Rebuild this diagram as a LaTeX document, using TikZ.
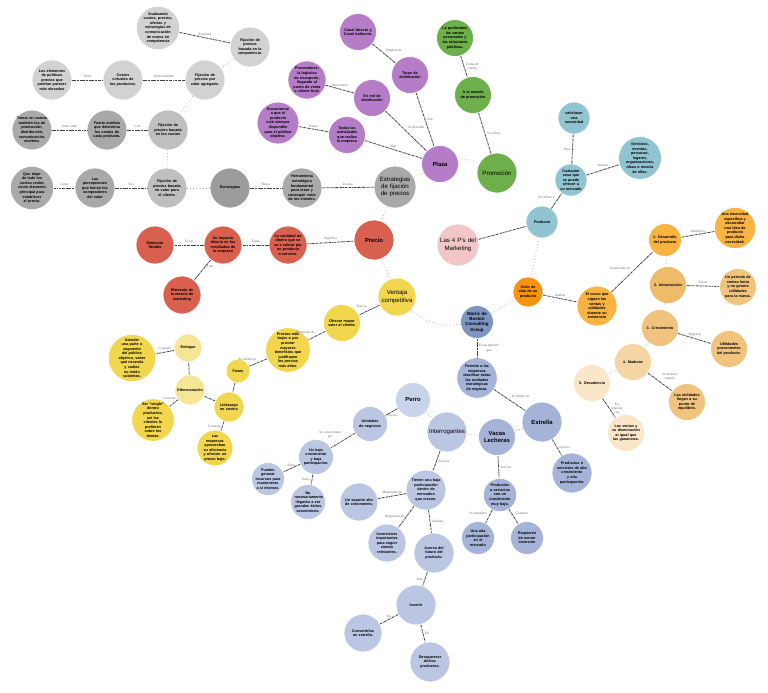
\documentclass[tikz,border=0pt]{standalone}
\usepackage{fontspec}
\setmainfont{Liberation Serif}
\setsansfont{Liberation Sans}
\definecolor{GreyLight}{HTML}{D2D2D2}
\definecolor{GreyMid}{HTML}{BFBFBF}
\definecolor{GreyDark}{HTML}{A9A9A9}
\definecolor{GreyDeep}{HTML}{9C9C9C}
\definecolor{PlazaPurple}{HTML}{B57CC8}
\definecolor{PromoGreen}{HTML}{6DAF4B}
\definecolor{ProdTeal}{HTML}{8FC4D0}
\definecolor{MktPink}{HTML}{F2C6C6}
\definecolor{PrecioRed}{HTML}{D9604F}
\definecolor{VentYellow}{HTML}{F2D64E}
\definecolor{VentPale}{HTML}{F5E594}
\definecolor{BcgDark}{HTML}{7E95C1}
\definecolor{BcgMid}{HTML}{A4B3D7}
\definecolor{BcgLight}{HTML}{BAC6E2}
\definecolor{BcgPale}{HTML}{C9D3EA}
\definecolor{CicloOrange}{HTML}{F8940F}
\definecolor{FaseA}{HTML}{F8B343}
\definecolor{FaseB}{HTML}{EDBB6A}
\definecolor{FaseC}{HTML}{F1C47E}
\definecolor{FaseD}{HTML}{F5D5A3}
\definecolor{FaseE}{HTML}{FAE7CA}
\hyphenpenalty=10000
\exhyphenpenalty=10000

\begin{document}
\begin{tikzpicture}[x=0.03cm, y=-0.03cm,
    bub/.style={circle, draw=white, line width=0.6pt, inner sep=0pt, align=center,
      font=\sffamily\bfseries\fontsize{3.2}{3.9}\selectfont},
    sz/.style={minimum size=#1*0.03cm, text width=#1*0.023cm},
    big/.style={font=\sffamily\fontsize{5.2}{6.2}\selectfont},
    bigb/.style={font=\sffamily\bfseries\fontsize{5}{6}\selectfont},
    link/.style={black!75, line width=0.7pt, dash pattern=on 2pt off 0.6pt on 0.6pt off 0.6pt},
    tie/.style={gray!70, line width=0.6pt, dotted},
    lbl/.style={font=\rmfamily\fontsize{3}{3.5}\selectfont, text=black!60, inner sep=1.5pt, align=center}]
    \useasboundingbox (0,0) rectangle (768,692);

    % precios
    \node[bub, sz=40, fill=GreyLight] (G1) at (158,28) {Analizando costos, precios, ofertas y estrategias de comunicación de marca en competencia};
    \node[bub, sz=40, fill=GreyLight] (G2) at (250,47) {Fijación de precios basada en la competencia.};
    \node[bub, sz=40, fill=GreyLight] (G3) at (205,80) {Fijación de precios por valor agregado.};
    \node[bub, sz=40, fill=GreyLight] (G4) at (123,80) {Costos virtuales de los productos.};
    \node[bub, sz=40, fill=GreyLight] (G5) at (52,80) {Los elementos de políticas precios que podrían parecer más elevados};
    \node[bub, sz=40, fill=GreyMid] (G6) at (168,130) {Fijación de precios basada en los costos};
    \node[bub, sz=40, fill=GreyDark] (G7) at (107,130) {Fuerte análisis que determina los costos de cada producto.};
    \node[bub, sz=40, fill=GreyDark] (G8) at (32,130) {Tomar en cuenta también los de producción, distribución, comunicación, etcétera.};
    \node[bub, sz=40, fill=GreyMid] (G9) at (167,188) {Fijación de precios basada en valor para el cliente.};
    \node[bub, sz=40, fill=GreyDark] (G10) at (95,188) {Las percepciones que tienen los compradores del valor};
    \node[bub, sz=40, fill=GreyDark] (G11) at (32,188) {Que dejar de lado los costos reales como elemento principal para establecer el precio.};
    \node[bub, sz=40, fill=GreyDeep] (Estrategias) at (230,188) {Estrategias};
    \node[bub, sz=40, fill=GreyDark] (Herramienta) at (302,188) {Herramienta estratégica fundamental para crear y conseguir valor de los clientes.};
    \node[bub, sz=42, fill=GreyDark, big, text width=1.1cm] (Fijacion) at (395,187) {Estrategias de fijación de precios};

    % plaza
    \node[bub, sz=37, fill=PlazaPurple] (P1) at (358,32) {Canal directo y Canal indirecto.};
    \node[bub, sz=37, fill=PlazaPurple] (P2) at (410,75) {Tipos de distribución};
    \node[bub, sz=37, fill=PlazaPurple] (P3) at (307,80) {Proveedores, la logística de transporte, llegando al punto de venta o cliente final.};
    \node[bub, sz=37, fill=PlazaPurple] (P4) at (372,98) {En red de distribución};
    \node[bub, sz=37, fill=PlazaPurple] (P5) at (278,123) {Encontrarse a que el producto esté siempre disponible para el público objetivo.};
    \node[bub, sz=37, fill=PlazaPurple] (P6) at (347,135) {Todas las actividades que realiza la empresa};
    \node[bub, sz=37, fill=PlazaPurple, bigb] (Plaza) at (440,164) {Plaza};

    % promocion
    \node[bub, sz=37, fill=PromoGreen] (GR1) at (455,38) {La publicidad, las ventas personales y las relaciones públicas.};
    \node[bub, sz=37, fill=PromoGreen] (GR2) at (473,95) {A la mezcla de promoción};
    \node[bub, sz=40, fill=PromoGreen, big, text width=1.1cm] (Promocion) at (497,173) {Promoción};

    % producto
    \node[bub, sz=32, fill=ProdTeal] (Producto) at (542,222) {Producto};
    \node[bub, sz=32, fill=ProdTeal] (T1) at (571,180) {Cualquier cosa que se puede ofrecer a un mercado};
    \node[bub, sz=32, fill=ProdTeal] (T2) at (574,118) {satisfacer una necesidad};
    \node[bub, sz=40, fill=ProdTeal] (T3) at (640,158) {Servicios, eventos, personas, lugares, organizaciones, ideas o mezcla de ellos.};
    \node[bub, sz=42, fill=MktPink, big, text width=1.1cm] (Marketing) at (458,245) {Las 4 P's del Marketing};

    % precio
    \node[bub, sz=40, fill=PrecioRed, bigb] (Precio) at (374,240) {Precio};
    \node[bub, sz=38, fill=PrecioRed] (R1) at (288,245) {La cantidad de dinero que se va a cobrar por un producto o servicio.};
    \node[bub, sz=38, fill=PrecioRed] (R2) at (223,245) {Un impacto directo en los resultados de la empresa};
    \node[bub, sz=38, fill=PrecioRed] (R3) at (155,245) {Elemento flexible};
    \node[bub, sz=38, fill=PrecioRed] (R4) at (182,295) {Elemento de la mezcla de marketing};

    % ventaja
    \node[bub, sz=38, fill=VentYellow, big, text width=1.05cm] (Ventaja) at (397,297) {Ventaja competitiva};
    \node[bub, sz=37, fill=VentYellow] (Y2) at (342,323) {Ofrecer mayor valor al cliente.};
    \node[bub, sz=37, fill=VentYellow] (Y3) at (288,350) {Precios más bajos o por proveer mayores beneficios que justifiquen los precios más altos.};
    \node[bub, sz=24, fill=VentYellow] (Fases) at (238,371) {Fases};
    \node[bub, sz=30, fill=VentYellow] (Liderazgo) at (229,407) {Liderazgo en costos};
    \node[bub, sz=30, fill=VentYellow, text width=0.74cm] (Y6) at (215,448) {Las empresas aprovechan su eficiencia y ofrecen un precio bajo.};
    \node[bub, sz=30, fill=VentPale, text width=0.8cm] (Diferenciacion) at (190,390) {Diferenciación};
    \node[bub, sz=28, fill=VentPale] (Enfoque) at (188,348) {Enfoque};
    \node[bub, sz=32, fill=VentYellow, text width=0.8cm] (Y9) at (132,358) {Atender una parte o segmento del público objetivo, saber qué necesita y cuáles no están cubiertas.};
    \node[bub, sz=31, fill=VentYellow, text width=0.74cm] (Y10) at (153,420) {Ser “single” dentro productos, así los clientes lo prefieren sobre los demás.};

    % matriz bcg
    \node[bub, sz=30, fill=BcgDark, text width=0.78cm, font=\sffamily\bfseries\fontsize{3.8}{4.6}\selectfont] (Matriz) at (477,322) {Matriz de Boston Consulting Group};
    \node[bub, sz=40, fill=BcgMid] (M1) at (477,378) {Permite a las empresas clasificar todas las unidades estratégicas de negocio.};
    \node[bub, sz=40, fill=BcgMid, bigb] (Estrella) at (542,422) {Estrella};
    \node[bub, sz=40, fill=BcgMid] (ES1) at (572,473) {Productos o servicios de alto crecimiento y alta participación.};
    \node[bub, sz=37, fill=BcgMid, bigb, text width=1cm] (Vacas) at (497,437) {Vacas Lecheras};
    \node[bub, sz=33, fill=BcgMid] (V1) at (500,495) {Productos o servicios con un crecimiento muy bajo.};
    \node[bub, sz=33, fill=BcgMid] (V2) at (478,538) {Una alta participación en el mercado};
    \node[bub, sz=33, fill=BcgMid] (V3) at (527,538) {Requieren de menor inversión};
    \node[bub, sz=40, fill=BcgLight, big, text width=1.15cm] (Interrogantes) at (447,432) {Interrogantes};
    \node[bub, sz=35, fill=BcgPale, bigb] (Perro) at (413,400) {Perro};
    \node[bub, sz=35, fill=BcgLight] (PE1) at (370,424) {Unidades de negocios};
    \node[bub, sz=35, fill=BcgLight] (PE2) at (316,457) {Un bajo crecimiento y baja participación.};
    \node[bub, sz=33, fill=BcgLight] (PE3) at (268,479) {Pueden generar recursos para mantenerse a sí mismos.};
    \node[bub, sz=35, fill=BcgLight] (PE4) at (308,502) {No necesariamente llegarán a ser grandes éxitos económicos.};
    \node[bub, sz=40, fill=BcgLight] (I1) at (426,490) {Tienen una baja participación dentro de mercados que crecen.};
    \node[bub, sz=38, fill=BcgLight] (I2) at (359,502) {Un soporte alto de crecimiento.};
    \node[bub, sz=38, fill=BcgLight] (I3) at (387,543) {Inversiones importantes para seguir siendo relevantes.};
    \node[bub, sz=40, fill=BcgLight] (I4) at (434,553) {Acerca del futuro del producto.};
    \node[bub, sz=40, fill=BcgLight] (Invertir) at (416,605) {Invertir};
    \node[bub, sz=38, fill=BcgLight] (I6) at (363,633) {Convertirlos en estrella.};
    \node[bub, sz=40, fill=BcgLight] (I7) at (430,662) {Desaparecer dichos productos.};

    % ciclo de vida
    \node[bub, sz=30, fill=CicloOrange] (Ciclo) at (528,292) {Ciclo de vida de un producto};
    \node[bub, sz=40, fill=FaseA] (C1) at (597,306) {El curso que siguen las ventas y utilidades durante su existencia};
    \node[bub, sz=33, fill=FaseA] (O1) at (665,240) {1. Desarrollo del producto};
    \node[bub, sz=37, fill=FaseA] (O1b) at (735,228) {Una necesidad específica y desarrollar una idea de producto para dicha necesidad.};
    \node[bub, sz=37, fill=FaseB] (O2) at (668,285) {2. Introducción};
    \node[bub, sz=37, fill=FaseC] (O2b) at (738,287) {Un periodo de ventas lento y no genera utilidades para la marca.};
    \node[bub, sz=37, fill=FaseC] (O3) at (660,328) {3. Crecimiento};
    \node[bub, sz=37, fill=FaseC] (O3b) at (729,349) {Utilidades provenientes del producto.};
    \node[bub, sz=37, fill=FaseD] (O4) at (633,362) {4. Madurez};
    \node[bub, sz=37, fill=FaseC] (O4b) at (687,402) {Las utilidades llegan a su punto de equilibrio.};
    \node[bub, sz=37, fill=FaseE] (O5) at (592,383) {5. Decadencia};
    \node[bub, sz=37, fill=FaseE] (O5b) at (626,433) {Las ventas y su disminución al igual que las ganancias.};

    \draw[link] (G1) -- node[lbl, above] {Examina} (G2);
    \draw[link] (G5) -- node[lbl, above] {Tiene} (G4);
    \draw[link] (G4) -- node[lbl, above] {Esencialmente} (G3);
    \draw[link] (G8) -- node[lbl, above] {Sobre todo} (G7);
    \draw[link] (G7) -- node[lbl, above] {Con} (G6);
    \draw[link] (G11) -- node[lbl, above] {Como} (G10);
    \draw[link] (G10) -- node[lbl, above] {Son} (G9);
    \draw[link] (Estrategias) -- node[lbl, above] {Busca} (Herramienta);
    \draw[link] (Herramienta) -- node[lbl, above] {Es una} (Fijacion);

    \draw[link] (P1) -- node[lbl, above right] {Pueden ser} (P2);
    \draw[link] (P2) -- node[lbl, right] {Son} (Plaza);
    \draw[link] (P3) -- node[lbl, above] {Intervienen} (P4);
    \draw[link] (P4) -- node[lbl, above right] {Se describe} (Plaza);
    \draw[link] (P5) -- node[lbl, above] {Busca} (P6);
    \draw[link] (P6) -- node[lbl, above] {Son} (Plaza);
    \draw[link] (GR1) -- node[lbl, right] {Toma en\\cuenta} (GR2);
    \draw[link] (GR2) -- node[lbl, right] {Se refiere} (Promocion);

    \draw[link] (Producto) -- node[lbl, above left] {Se refiere a} (T1);
    \draw[link] (T1) -- node[lbl, left] {Para} (T2);
    \draw[link] (T1) -- node[lbl, above] {Incluye} (T3);
    \draw[link] (Marketing) -- (Producto);

    \draw[link] (Precio) -- node[lbl, above] {Significa} (R1);
    \draw[link] (R1) -- node[lbl, above] {Tiene} (R2);
    \draw[link] (R2) -- node[lbl, above] {Es un} (R3);
    \draw[link] (R2) -- node[lbl, above right] {Es un} (R4);

    \draw[link] (Ventaja) -- node[lbl, above left] {Esto es} (Y2);
    \draw[link] (Y2) -- node[lbl, above left] {Por medio de} (Y3);
    \draw[link] (Y3) -- node[lbl, above left] {Se divide en} (Fases);
    \draw[link] (Fases) -- (Liderazgo);
    \draw[link] (Liderazgo) -- node[lbl, left] {Consiste} (Y6);
    \draw[link] (Liderazgo) -- (Diferenciacion);
    \draw[link] (Diferenciacion) -- (Enfoque);
    \draw[link] (Enfoque) -- node[lbl, above] {Consiste} (Y9);
    \draw[link] (Diferenciacion) -- node[lbl, above left, pos=0.2, inner sep=0.5pt] {Consiste} (Y10);

    \draw[link] (Matriz) -- node[lbl, right] {Es un método\\que} (M1);
    \draw[link] (M1) -- node[lbl, above right] {Se divide en} (Estrella);
    \draw[link] (Estrella) -- node[lbl, right] {Son los} (ES1);
    \draw[link] (Vacas) -- node[lbl, right] {Son los} (V1);
    \draw[link] (V1) -- node[lbl, above left] {Se mantiene} (V2);
    \draw[link] (V1) -- node[lbl, above right] {Generan} (V3);
    \draw[link] (Perro) -- node[lbl, below] {Son los} (PE1);
    \draw[link] (PE1) -- node[lbl, above left] {Se caracterizan\\por} (PE2);
    \draw[link] (PE2) -- node[lbl, above] {Estos} (PE3);
    \draw[link] (PE2) -- node[lbl, left] {Estos} (PE4);
    \draw[link] (Interrogantes) -- node[lbl, right] {Son los} (I1);
    \draw[link] (I1) -- node[lbl, above] {Mantienen un} (I2);
    \draw[link] (I1) -- node[lbl, left] {Requieren de} (I3);
    \draw[link] (I1) -- node[lbl, right] {Analiza} (I4);
    \draw[link] (I4) -- node[lbl, left] {Para} (Invertir);
    \draw[link] (Invertir) -- node[lbl, above] {En} (I6);
    \draw[link] (Invertir) -- node[lbl, right] {En} (I7);

    \draw[link] (Ciclo) -- node[lbl, above] {Analiza} (C1);
    \draw[link] (C1) -- node[lbl, above left] {Clasificado en} (O1);
    \draw[link] (O1) -- node[lbl, above] {Identifica} (O1b);
    \draw[link] (O2) -- node[lbl, above] {Existe} (O2b);
    \draw[link] (O3) -- node[lbl, above] {Registra} (O3b);
    \draw[link] (O4) -- node[lbl, above right] {Se alcanza\\cuando} (O4b);
    \draw[link] (O5) -- node[lbl, right] {En\\relación\\con} (O5b);

    \foreach \a/\b in {G2/G3, G3/G6, G6/G9, G9/Estrategias, Fijacion/Plaza, Fijacion/Precio,
        Precio/Ventaja, Producto/Ciclo, Matriz/Ciclo, Estrella/Vacas, Vacas/Interrogantes,
        Perro/Interrogantes, O1/O2, O2/O3, O3/O4, O4/O5}
        \draw[tie] (\a) -- (\b);
    \draw[tie] (Plaza) to[bend left=20] (Promocion);
    \draw[tie] (Ventaja) to[bend right=25] (Matriz);
\end{tikzpicture}
\end{document}
